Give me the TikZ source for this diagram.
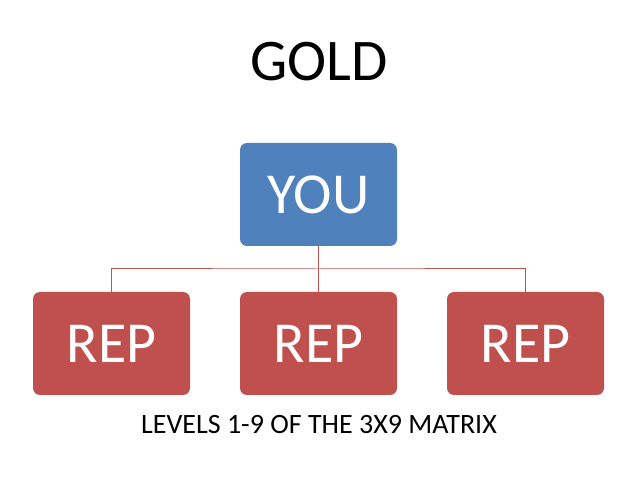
\documentclass[tikz,border=0pt]{standalone}
\usepackage{fontspec}
\setmainfont{Carlito}
\definecolor{bl}{HTML}{4F81BD}
\definecolor{rd}{HTML}{C0504D}
\begin{document}
\begin{tikzpicture}[x=1pt,y=-1pt,
  box/.style={rounded corners=7pt,minimum width=157pt,minimum height=103pt,inner sep=0pt,text=white,font=\fontsize{58}{62}\selectfont},
  ln/.style={draw=rd,line width=1pt}]
\useasboundingbox (0,0) rectangle (638,478);
\fill[white] (0,0) rectangle (638,478);
\node[font=\fontsize{59}{63}\selectfont] (t) at (319,62) {GOLD};
\node[box,fill=bl] (you) at (318.5,194.5) {YOU};
\node[box,fill=rd] (r1) at (111.5,343.5) {REP};
\node[box,fill=rd] (r2) at (318.5,343.5) {REP};
\node[box,fill=rd] (r3) at (525.5,343.5) {REP};
\coordinate (j) at (318.5,269);
\draw[ln] (you.south) -- (j);
\draw[ln] (r1.north) |- (j) -| (r3.north);
\draw[ln] (j) -- (r2.north);
\node[font=\fontsize{28}{32}\selectfont] (cap) at (319,425) {LEVELS 1-9 OF THE 3X9 MATRIX};
\end{tikzpicture}
\end{document}
